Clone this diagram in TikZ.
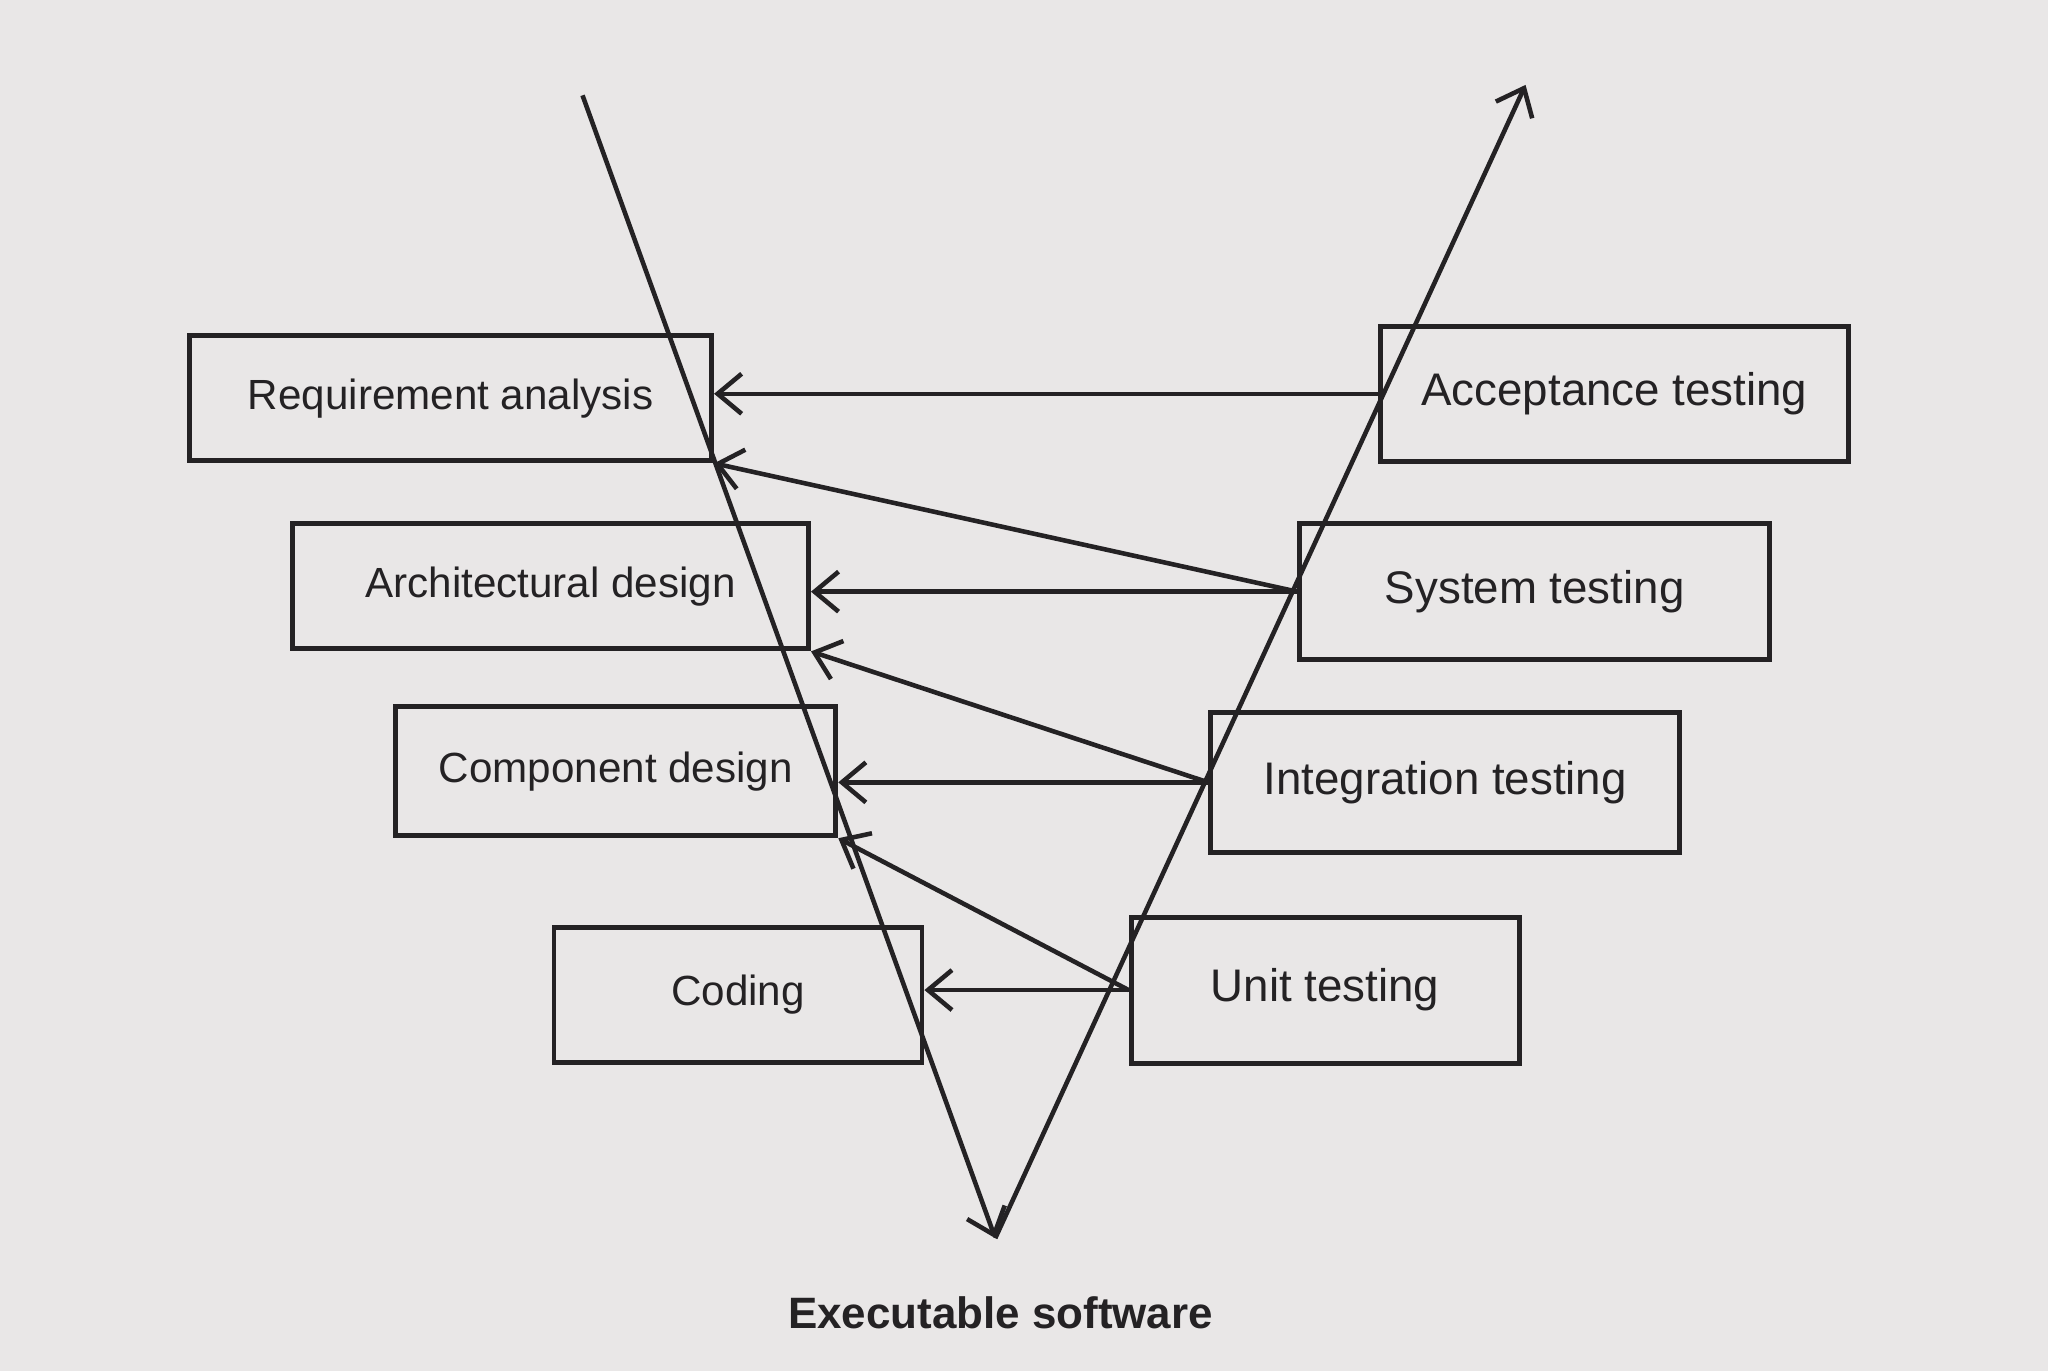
\documentclass[tikz,border=0pt]{standalone}
\usepackage{fontspec}
\setmainfont{Liberation Sans}
\usepackage{tikz}
\usetikzlibrary{arrows.meta}
\definecolor{paper}{RGB}{233,231,231}
\definecolor{ink}{RGB}{36,34,36}
\tikzset{
  box/.style={draw=ink, line width=1.4pt, inner sep=0pt, text=ink},
  lfont/.style={font=\fontsize{12}{14}\selectfont},
  rfont/.style={font=\fontsize{13}{15}\selectfont},
  link/.style={draw=ink, line width=1.3pt, -{Straight Barb[length=2.4mm,width=4mm,line width=1.3pt]}}
}
\begin{document}
\begin{tikzpicture}[x=0.013061cm, y=-0.013061cm]

\fill[paper] (0,0) rectangle (1568,1050);
\useasboundingbox (0,0) rectangle (1568,1050);

% phases going down
\node[box, lfont, minimum width=5.22cm, minimum height=1.25cm] (req) at (345,305) {Requirement analysis};
\node[box, lfont, minimum width=5.16cm, minimum height=1.25cm] (arch) at (421.5,449) {Architectural design};
\node[box, lfont, minimum width=4.40cm, minimum height=1.29cm] (comp) at (471.5,590.5) {Component design};
\node[box, lfont, minimum width=3.68cm, minimum height=1.35cm] (cod) at (565,761.5) {Coding};

% testing going up
\node[box, rfont, minimum width=4.68cm, minimum height=1.35cm] (acc) at (1236,301.5) {Acceptance testing};
\node[box, rfont, minimum width=4.70cm, minimum height=1.36cm] (sys) at (1175,453) {System testing};
\node[box, rfont, minimum width=4.69cm, minimum height=1.40cm] (int) at (1106.5,599) {Integration testing};
\node[box, rfont, minimum width=3.88cm, minimum height=1.46cm] (unit) at (1014.5,758) {Unit testing};

% the V
\coordinate (vtop) at (446,73);
\coordinate (vbot) at (762,948);
\coordinate (vend) at (1168,65);
\draw[link] (vtop) -- (vbot);
\draw[link] (vbot) -- (vend);
\node[text=ink, font=\fontsize{12.5}{15}\selectfont\bfseries] (exe) at (766,1005) {Executable software};

% feedback
\draw[link] (acc.west) -- (acc.west -| req.east);
\draw[link] (sys.west) -- (req.south east);
\draw[link] (sys.west) -- (sys.west -| arch.east);
\draw[link] (int.west) -- (arch.south east);
\draw[link] (int.west) -- (int.west -| comp.east);
\draw[link] (unit.west) -- (comp.south east);
\draw[link] (unit.west) -- (unit.west -| cod.east);

\end{tikzpicture}
\end{document}
